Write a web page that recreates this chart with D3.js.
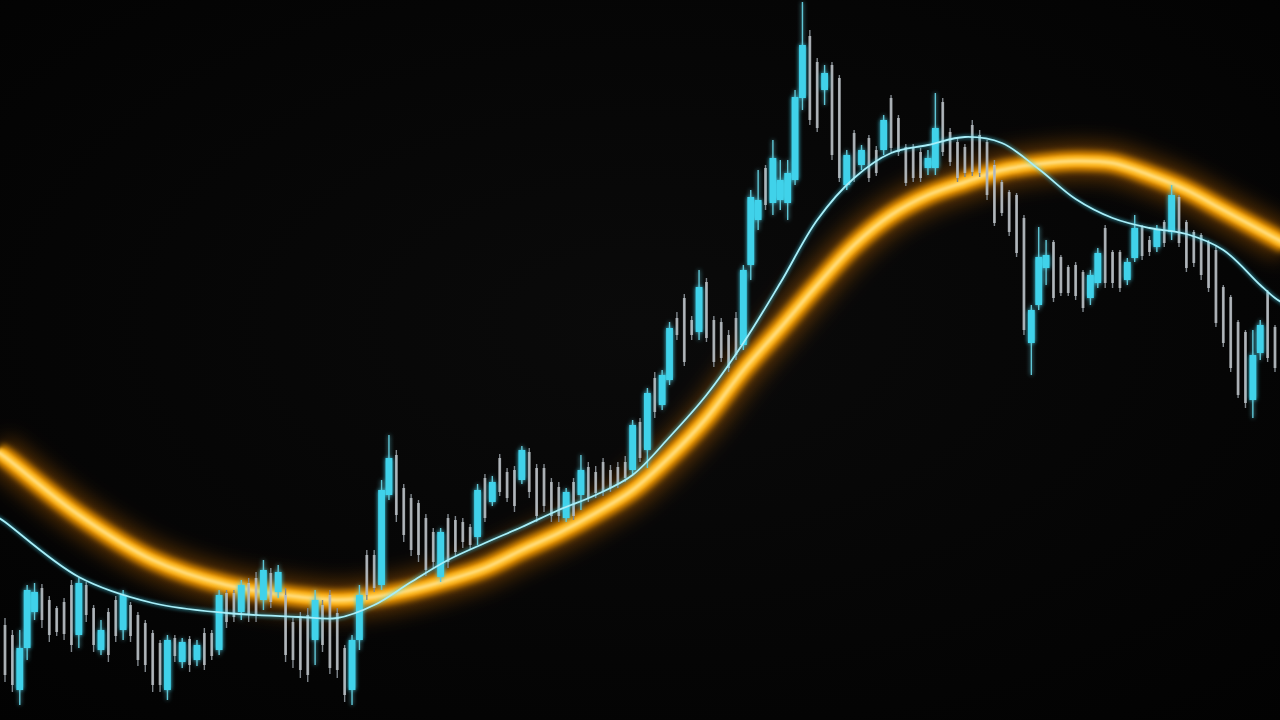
<!DOCTYPE html>
<html>
<head>
<meta charset="utf-8">
<script src="https://cdn.jsdelivr.net/npm/d3@7/dist/d3.min.js"></script>
<style>
  html, body { margin: 0; padding: 0; background: #000; overflow: hidden; }
  svg { display: block; }
</style>
</head>
<body>
<svg id="chart" width="1280" height="720"></svg>
<script>
// Candles: [open, high, low, close]
const ohlc = [
  [95,102,38,45],[85,90,28,35],[30,90,15,72],[72,135,60,130],[108,137,100,128],
  [132,136,92,100],[120,124,78,85],[112,114,84,88],[118,122,80,86],[135,140,68,75],[85,142,72,137],
  [135,138,98,105],[112,115,68,75],[70,100,65,90],[108,112,58,65],[120,124,78,84],
  [90,130,80,125],[115,118,78,84],[105,108,54,60],[97,100,48,55],[87,90,28,35],
  [77,80,28,35],[30,85,20,80],[82,85,58,64],[58,82,52,78],[81,84,48,55],
  [60,80,54,75],[87,92,50,55],[87,90,60,64],[70,130,65,125],[127,130,92,98],
  [127,130,98,103],[108,140,100,135],[137,142,98,105],[142,148,98,105],[120,160,110,150],
  [147,152,112,118],[128,155,122,148],[125,132,58,65],[98,102,52,60],[102,108,42,50],
  [105,112,38,45],[80,130,55,120],[115,120,68,75],[125,130,46,52],[107,112,42,50],
  [72,75,18,25],[30,85,15,80],[80,135,70,125],[165,170,120,125],[165,170,128,132],
  [135,240,130,230],[225,285,220,262],[265,270,198,205],[232,236,178,185],[222,226,164,170],
  [217,220,158,165],[202,206,144,150],[188,192,152,158],[143,192,138,188],[202,206,152,158],
  [200,204,163,168],[198,202,172,178],[193,196,170,175],[183,236,175,230],[242,246,198,202],
  [218,244,214,238],[262,266,224,228],[248,252,218,222],[250,254,208,214],[240,274,236,270],
  [268,272,222,228],[252,256,198,204],[252,256,208,214],[238,242,198,204],[233,238,198,204],
  [202,232,198,228],[238,242,200,204],[225,265,210,250],[253,258,218,222],[248,254,222,227],
  [258,262,224,228],[250,255,228,232],[253,258,232,236],[258,264,238,242],
  [250,300,246,295],[298,302,258,262],[270,332,252,327],[342,348,302,308],[315,350,310,345],
  [340,398,335,392],[402,408,380,385],[422,426,354,358],[400,404,380,385],[388,450,380,433],
  [438,442,378,382],[400,404,353,358],[398,402,358,362],[385,390,348,352],[402,408,360,365],
  [375,455,370,450],[455,530,440,523],[500,550,490,520],[552,555,510,515],[517,580,505,562],
  [520,560,510,540],[517,560,500,547],[540,630,535,623],[622,718,610,675],[684,690,595,600],
  [658,662,588,592],[630,655,615,647],[655,658,560,565],[642,645,538,542],[535,570,530,565],
  [587,590,538,542],[555,575,550,570],[582,585,538,542],[570,574,544,547],[570,605,565,600],
  [622,625,568,572],[602,605,564,568],[573,576,534,537],[573,576,538,542],
  [568,572,538,542],[552,570,545,562],[552,627,545,592],[618,622,564,568],
  [588,592,554,558],[578,582,538,542],[573,576,543,547],[595,600,544,548],[585,590,543,547],
  [578,580,520,525],[555,560,494,497],[538,540,504,507],[528,530,484,488],[525,527,463,467],
  [502,505,385,390],[377,415,345,410],[415,493,410,463],[452,480,435,465],[478,480,418,422],
  [463,465,424,427],[453,455,424,427],[455,458,420,424],[448,450,408,412],[422,450,415,445],[437,472,432,467],
  [492,495,432,437],[468,470,432,437],[468,470,428,432],[440,462,435,458],[462,505,458,492],
  [493,495,460,464],[480,484,464,468],[473,495,468,490],[498,500,473,477],[488,535,480,525],
  [523,525,473,477],[498,500,448,452],[488,490,453,457],[485,487,440,445],[478,480,428,432],[470,475,393,397],
  [433,435,373,377],[423,425,348,352],[398,400,322,325],[388,390,312,317],[320,390,302,365],
  [367,400,360,395],[428,430,358,362],[393,395,348,352]
];

// Moving-average lines sampled at candle indices
const maIndex = [-1,0,10,20,30,40,45,50,55,60,65,70,75,80,85,90,95,100,105,110,115,120,125,130,135,140,145,150,155,160,165,170,172,173.5];
const maFast  = [203,198,143,117,107,103,102,115,138,160,177,193,210,225,245,283,325,377,437,500,542,567,575,583,577,551,521,502,492,486,470,435,422,415];
const maSlow  = [268,263,205,160,135,123,120,123,130,140,152,170,187,207,230,263,302,350,392,435,475,505,525,538,550,556,559,557,545,530,510,490,482,476];

const W = 1280, H = 720;
const svg = d3.select("#chart");

const x = d3.scaleLinear().domain([0, ohlc.length - 1]).range([5, 1275]);
const y = d3.scaleLinear().domain([0, 720]).range([720, 0]);

const defs = svg.append("defs");
const bg = defs.append("radialGradient").attr("id", "bg").attr("cx", "50%").attr("cy", "45%").attr("r", "75%");
bg.append("stop").attr("offset", "0%").attr("stop-color", "#0a0a0a");
bg.append("stop").attr("offset", "100%").attr("stop-color", "#020202");

function blur(id, sd) {
  const f = defs.append("filter").attr("id", id)
    .attr("x", "-20%").attr("y", "-20%").attr("width", "140%").attr("height", "140%");
  f.append("feGaussianBlur").attr("stdDeviation", sd);
}
blur("b10", 10); blur("b3", 3); blur("b15", 1.5); blur("b1", 0.8);
const glow = defs.append("filter").attr("id", "glowC")
  .attr("x", "-100%").attr("y", "-20%").attr("width", "300%").attr("height", "140%");
glow.append("feGaussianBlur").attr("in", "SourceGraphic").attr("stdDeviation", 2.2).attr("result", "bl");
const m = glow.append("feMerge");
m.append("feMergeNode").attr("in", "bl");
m.append("feMergeNode").attr("in", "SourceGraphic");

svg.append("rect").attr("width", W).attr("height", H).attr("fill", "url(#bg)");

const line = d3.line()
  .x((d, i) => x(maIndex[i]))
  .y(d => y(d))
  .curve(d3.curveCatmullRom.alpha(0.5));

// Orange glowing slow MA
const og = svg.append("g");
og.append("path").attr("d", line(maSlow)).attr("fill", "none")
  .attr("stroke", "#ff8a00").attr("stroke-width", 36).attr("stroke-opacity", 0.35)
  .attr("filter", "url(#b10)");
og.append("path").attr("d", line(maSlow)).attr("fill", "none")
  .attr("stroke", "#f59c00").attr("stroke-width", 19).attr("stroke-opacity", 0.95)
  .attr("filter", "url(#b3)");
og.append("path").attr("d", line(maSlow)).attr("fill", "none")
  .attr("stroke", "#ffbf2e").attr("stroke-width", 10)
  .attr("filter", "url(#b15)");
og.append("path").attr("d", line(maSlow)).attr("fill", "none")
  .attr("stroke", "#ffe28a").attr("stroke-width", 3.5).attr("stroke-opacity", 0.85)
  .attr("filter", "url(#b1)");

// Candles
const cg = svg.append("g");
const rows = ohlc.map((d, i) => ({ i, o: d[0], h: d[1], l: d[2], c: d[3] }));
const bull = rows.filter(d => d.c >= d.o);
const bear = rows.filter(d => d.c < d.o);

const bearG = cg.append("g");
bearG.selectAll("line").data(bear).join("line")
  .attr("x1", d => x(d.i)).attr("x2", d => x(d.i))
  .attr("y1", d => y(d.h)).attr("y2", d => y(d.l))
  .attr("stroke", "#7f868c").attr("stroke-width", 1.4);
bearG.selectAll("rect").data(bear).join("rect")
  .attr("x", d => x(d.i) - 1.4).attr("width", 2.8)
  .attr("y", d => y(d.o)).attr("height", d => Math.max(1, y(d.c) - y(d.o)))
  .attr("fill", "#b8bec3").attr("fill-opacity", 0.85);

const bullG = cg.append("g").attr("filter", "url(#glowC)");
bullG.selectAll("line").data(bull).join("line")
  .attr("x1", d => x(d.i)).attr("x2", d => x(d.i))
  .attr("y1", d => y(d.h)).attr("y2", d => y(d.l))
  .attr("stroke", "#5fc6d6").attr("stroke-width", 1.4);
bullG.selectAll("rect").data(bull).join("rect")
  .attr("x", d => x(d.i) - 3.4).attr("width", 6.8)
  .attr("y", d => y(d.c)).attr("height", d => Math.max(1.5, y(d.o) - y(d.c)))
  .attr("fill", "#3fd2ea");

// Cyan fast MA
const fg = svg.append("g");
fg.append("path").attr("d", line(maFast)).attr("fill", "none")
  .attr("stroke", "#46d8f0").attr("stroke-width", 5).attr("stroke-opacity", 0.35)
  .attr("filter", "url(#b15)");
fg.append("path").attr("d", line(maFast)).attr("fill", "none")
  .attr("stroke", "#a8eef8").attr("stroke-width", 1.8);
</script>
</body>
</html>
